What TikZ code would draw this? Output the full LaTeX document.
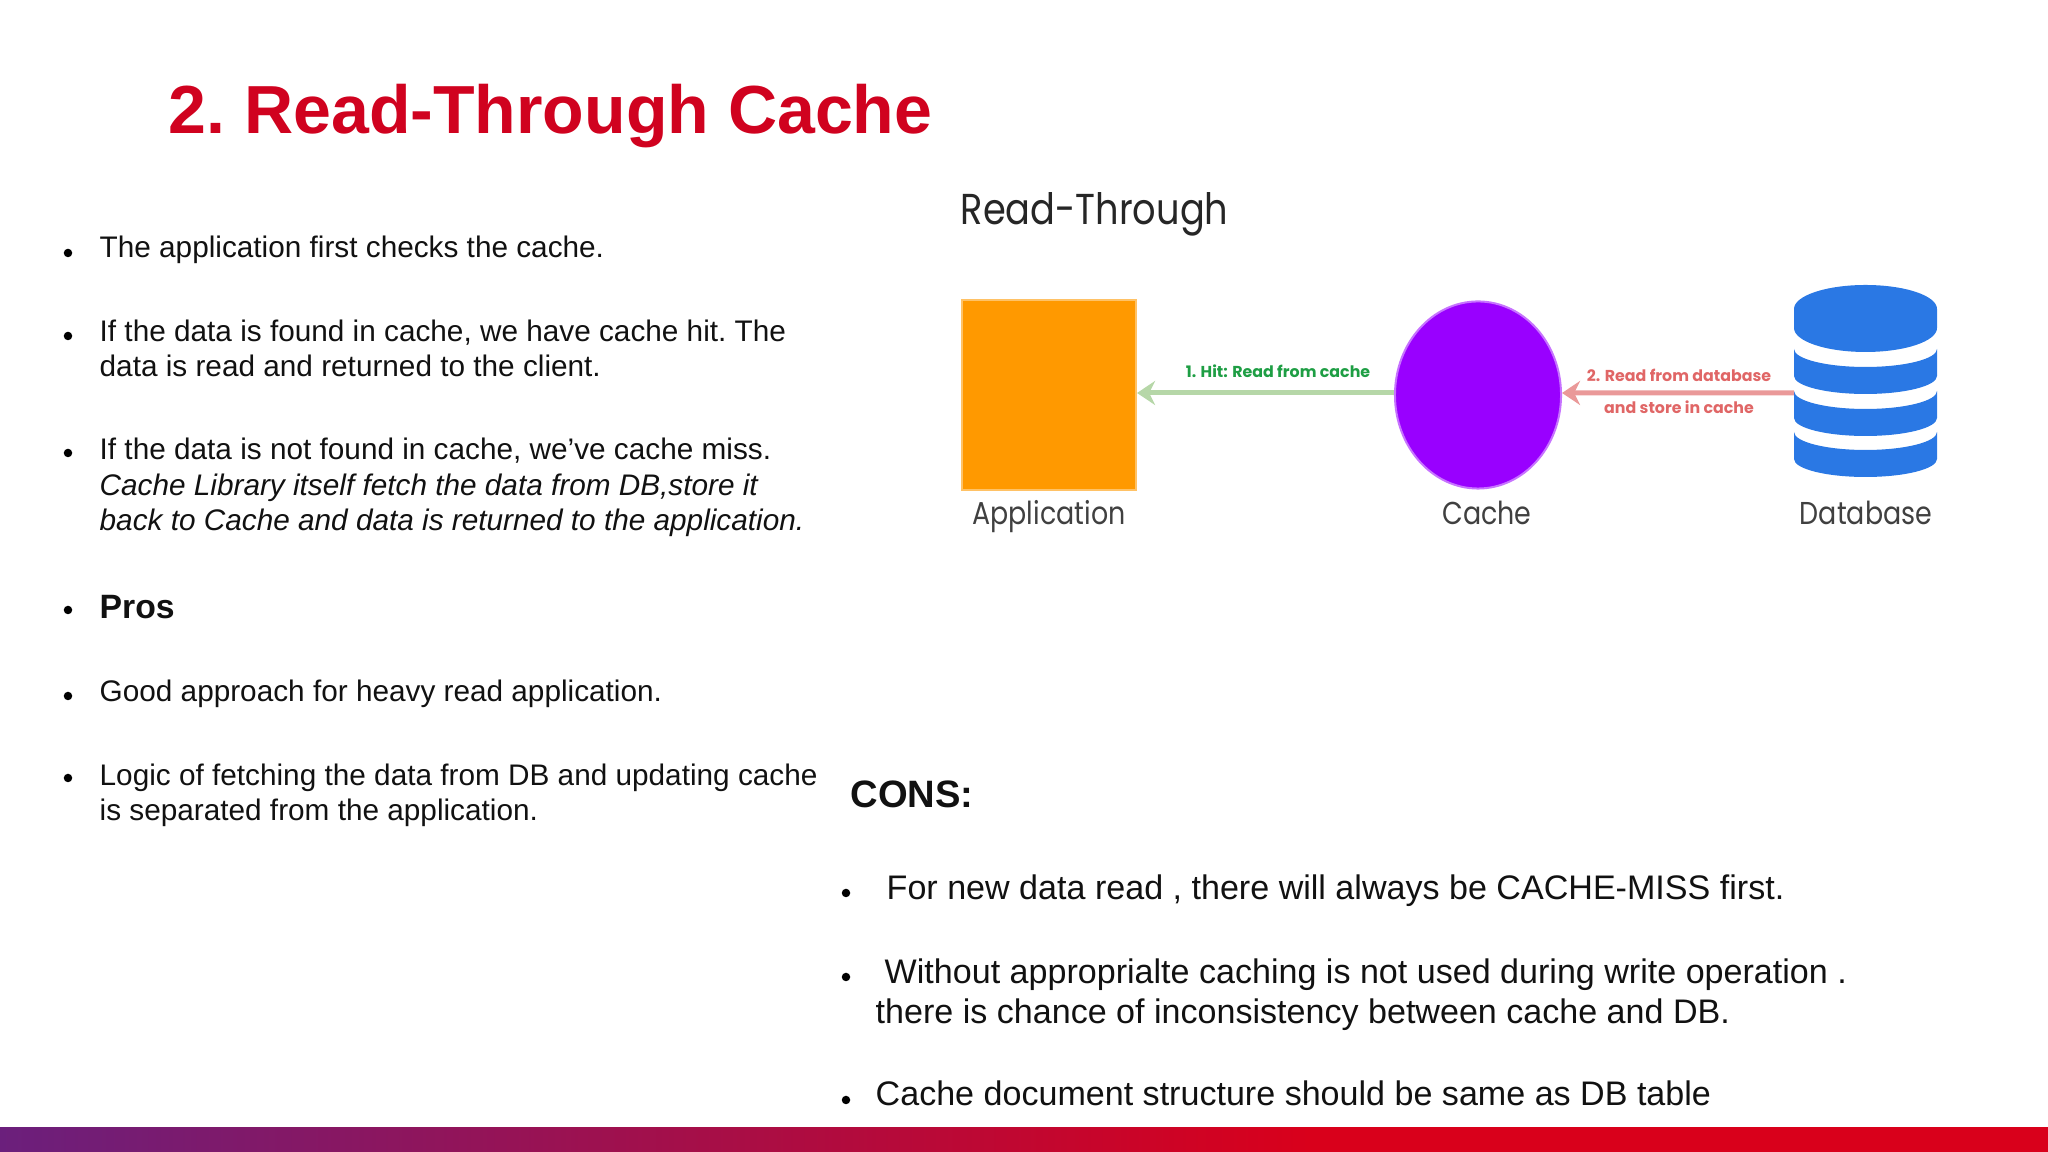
\documentclass[tikz,border=0pt]{standalone}
\usepackage{fontspec}
\setmainfont{Liberation Sans}
\newfontfamily\sketchfont{Poppins}
\usetikzlibrary{arrows.meta,shapes.geometric}
\definecolor{TitleRed}{HTML}{D0021F}
\definecolor{BandPurple}{HTML}{6B1F7C}
\definecolor{BandRed}{HTML}{D9001B}
\definecolor{NiceBlack}{HTML}{111111}
\definecolor{AppOrange}{HTML}{FF9900}
\definecolor{CachePurple}{HTML}{9900FF}
\definecolor{DbBlue}{HTML}{2A78E4}
\definecolor{HitGreen}{HTML}{B6D7A8}
\definecolor{HitText}{HTML}{1E9E44}
\definecolor{MissRed}{HTML}{EA9999}
\definecolor{MissText}{HTML}{E06666}
\newcommand{\narrowtext}[1]{\scalebox{0.85}[1]{#1}}
\pgfdeclarehorizontalshading{bandfade}{100bp}{color(0bp)=(BandPurple); color(25bp)=(BandPurple); color(57bp)=(BandRed); color(75bp)=(BandRed); color(100bp)=(BandRed)}
\tikzset{
  bodytext/.style={anchor=base west, inner sep=0pt, align=left, NiceBlack,
    font=\frenchspacing\fontsize{8.46}{10.15}\selectfont},
  constext/.style={anchor=base west, inner sep=0pt, align=left, NiceBlack,
    font=\frenchspacing\fontsize{9.69}{11.6}\selectfont},
  dotmark/.style={circle, fill=black, inner sep=0pt, minimum size=0.085cm},
  sketchlabel/.style={anchor=base, inner sep=0pt, font=\sketchfont\fontsize{9}{10}\selectfont, black!75},
  arrowtext/.style={inner sep=0pt, font=\sketchfont\bfseries\fontsize{4.5}{6}\selectfont},
  hitarrow/.style={line width=0.05cm, HitGreen, -{Stealth[length=0.18cm, width=0.24cm]}},
  missarrow/.style={line width=0.05cm, MissRed, -{Stealth[length=0.18cm, width=0.24cm]}},
}
\begin{document}
\begin{tikzpicture}[x=0.01cm, y=0.01cm]
      \useasboundingbox (0,0) rectangle (2048,1152);
      % Footer band
      \shade[shading=bandfade] (0,0) rectangle (2048,24);
      % Title
      \node (title) [anchor=base west, inner sep=0pt, TitleRed, font=\frenchspacing\bfseries\fontsize{19.35}{24}\selectfont] at (168,1018) {2. Read-Through Cache};
      % Left column
      \node (hitcheck) [bodytext] at (99,894) {The application first checks the cache.};
      \node (hitfound) [bodytext] at (99,775) {If the data is found in cache, we have cache hit. The\\data is read and returned to the client.};
      \node (missfound) [bodytext] at (99,621) {If the data is not found in cache, we’ve cache miss.\\\textit{Cache Library itself fetch the data from DB,store it}\\\textit{back to Cache and data is returned to the application.}};
      \node (pros) [bodytext, font=\bfseries\fontsize{9.6}{12}\selectfont] at (99,533) {Pros};
      \node (goodread) [bodytext] at (99,450) {Good approach for heavy read application.};
      \node (logic) [bodytext] at (99,331) {Logic of fetching the data from DB and updating cache\\is separated from the application.};
      % Right column
      \node (cons) [bodytext, font=\bfseries\fontsize{10.85}{13}\selectfont] at (850,344) {CONS:};
      \node (newdata) [constext] at (886,252) {For new data read , there will always be CACHE-MISS first.};
      \node (without) [constext] at (875,128) {\hspace{0.09cm}Without approprialte caching is not used during write operation .\\there is chance of inconsistency between cache and DB.};
      \node (docstruct) [constext] at (875,46) {Cache document structure should be same as DB table};
      % Bullets
      \foreach \n/\x/\y in {a/68/899,b/68/816,c/68/699,d/68/542,e/68/456,f/68/374,g/846/259,h/846/175,i/846/52}
        \node (dot\n) [dotmark] at (\x,\y) {};
      % Read-through sketch
      \node (sketchtitle) [anchor=base west, inner sep=0pt, font=\sketchfont\fontsize{12.3}{14}\selectfont, black!85] at (960,927) {\narrowtext{Read-Through}};
      \node (application) [draw=AppOrange!60!white, line width=0.02cm, fill=AppOrange, minimum width=1.74cm, minimum height=1.9cm, inner sep=0pt] at (1049,757) {};
      \node (cache) [ellipse, draw=CachePurple!55!white, line width=0.02cm, fill=CachePurple, minimum width=1.66cm, minimum height=1.87cm, inner sep=0pt] at (1478,757) {};
      \node (database) [minimum width=1.43cm, minimum height=1.92cm, inner sep=0pt] at (1866,772) {};
      % Disks of the database
      \fill[DbBlue] (1794,843) arc[start angle=180, end angle=0, x radius=71.5, y radius=24]
        -- (1937,824) arc[start angle=0, end angle=-180, x radius=71.5, y radius=24] -- cycle;
      \foreach \y in {803,761,720}
        \fill[DbBlue] (1794,\y) arc[start angle=180, end angle=360, x radius=71.5, y radius=18]
          -- ++(0,-27) arc[start angle=0, end angle=-180, x radius=71.5, y radius=18] -- cycle;
      % Names
      \node (applabel) [sketchlabel] at (1049,627) {\narrowtext{Application}};
      \node (cachelabel) [sketchlabel] at (1487,627) {\narrowtext{Cache}};
      \node (dblabel) [sketchlabel] at (1866,627) {\narrowtext{Database}};
      % Arrows
      \draw[hitarrow] ([yshift=0.02cm]cache.west) -- ([yshift=0.02cm]application.east);
      \draw[missarrow] (database.west |- 0,759) -- ([yshift=0.02cm]cache.east);
      \node (hitlabel) [arrowtext, HitText] at (1278,781) {1. Hit: Read from cache};
      \node (misslabela) [arrowtext, MissText] at (1679,777) {2. Read from database};
      \node (misslabelb) [arrowtext, MissText] at (1679,745) {and store in cache};
    \end{tikzpicture}
\end{document}
